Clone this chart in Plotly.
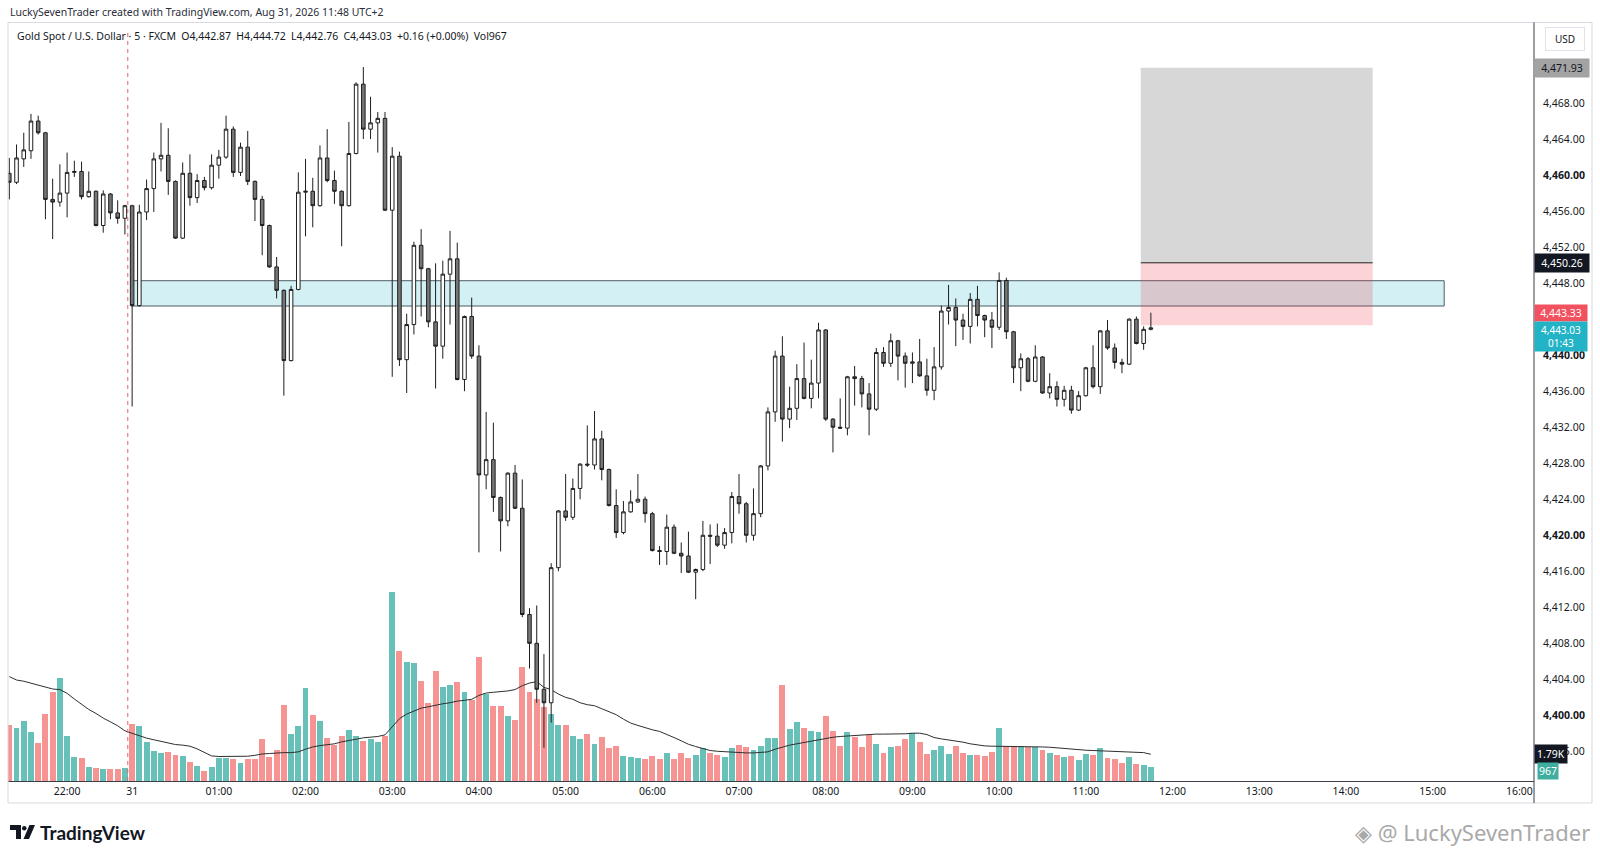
import plotly.graph_objects as go

# Gold Spot / USD 5分钟K线 (FXCM)，周五 21:20 到 周一 11:45
opens = [4460.2, 4459.2, 4461.8, 4462.7, 4466.0, 4464.7, 4457.3, 4457.0, 4458.0, 4460.3,
         4460.4, 4457.6, 4458.2, 4454.4, 4457.9, 4455.8, 4455.2, 4456.6, 4445.5, 4455.9,
         4458.5, 4461.8, 4462.2, 4459.3, 4453.0, 4460.2, 4457.5, 4459.4, 4458.6, 4461.1,
         4462.0, 4465.1, 4460.3, 4463.1, 4459.3, 4457.3, 4454.4, 4449.8, 4447.2, 4439.4,
         4447.3, 4458.1, 4458.2, 4456.6, 4461.9, 4459.4, 4458.2, 4456.6, 4462.4, 4470.1,
         4465.1, 4465.8, 4466.3, 4456.1, 4462.1, 4439.5, 4443.4, 4452.2, 4449.6, 4443.7,
         4441.0, 4449.0, 4450.7, 4437.3, 4444.3, 4439.9, 4426.7, 4428.4, 4424.2, 4421.6,
         4426.9, 4423.0, 4411.2, 4408.0, 4402.9, 4401.4, 4416.4, 4422.7, 4422.0, 4425.2,
         4427.9, 4427.8, 4430.7, 4427.3, 4423.3, 4420.3, 4422.6, 4423.7, 4424.0, 4422.4,
         4418.3, 4418.2, 4420.9, 4418.0, 4417.7, 4415.9, 4416.2, 4420.0, 4419.9, 4418.9,
         4420.3, 4424.3, 4423.5, 4420.0, 4422.4, 4427.7, 4433.7, 4439.9, 4432.9, 4434.1,
         4437.4, 4435.2, 4436.9, 4442.8, 4432.9, 4432.0, 4431.9, 4437.6, 4437.4, 4435.7,
         4434.0, 4440.3, 4439.1, 4441.6, 4439.9, 4439.1, 4439.25, 4437.7, 4436.1, 4438.7,
         4444.9, 4445.3, 4443.9, 4443.2, 4446.2, 4444.4, 4443.9, 4443.1, 4448.3, 4442.6,
         4438.6, 4439.6, 4437.1, 4439.8, 4435.8, 4436.5, 4435.1, 4436.1, 4433.9, 4435.5,
         4438.6, 4436.5, 4442.7, 4440.8, 4439.2, 4439.0, 4444.0, 4441.3, 4442.87]
highs = [4461.9, 4463.4, 4464.7, 4466.8, 4466.6, 4464.8, 4459.6, 4461.2, 4462.5, 4461.6,
         4461.5, 4460.4, 4458.3, 4458.3, 4458.0, 4457.2, 4456.7, 4456.7, 4456.7, 4459.5,
         4462.5, 4465.8, 4465.2, 4459.4, 4461.4, 4462.3, 4460.1, 4459.8, 4462.3, 4462.8,
         4466.6, 4465.4, 4463.6, 4464.9, 4459.4, 4457.7, 4454.5, 4450.9, 4447.3, 4447.7,
         4460.3, 4461.8, 4459.7, 4463.3, 4465.1, 4460.5, 4458.3, 4465.9, 4470.3, 4472.0,
         4468.7, 4467.0, 4467.0, 4463.1, 4462.6, 4444.6, 4452.6, 4454.0, 4449.7, 4450.2,
         4450.5, 4453.8, 4452.5, 4444.4, 4446.4, 4441.1, 4433.7, 4432.5, 4424.3, 4427.0,
         4427.8, 4426.2, 4411.9, 4412.2, 4406.8, 4416.9, 4422.8, 4426.8, 4426.3, 4428.0,
         4432.2, 4433.8, 4431.6, 4427.4, 4425.1, 4423.8, 4425.0, 4426.8, 4424.3, 4422.6,
         4418.8, 4422.3, 4421.2, 4419.2, 4420.4, 4416.3, 4421.6, 4421.2, 4421.3, 4420.8,
         4424.8, 4426.8, 4423.7, 4425.2, 4427.8, 4434.2, 4440.5, 4442.1, 4436.5, 4439.0,
         4441.4, 4439.5, 4443.6, 4442.9, 4433.0, 4435.2, 4437.7, 4438.8, 4437.7, 4436.9,
         4440.8, 4440.9, 4442.4, 4441.7, 4440.3, 4440.3, 4441.8, 4439.6, 4440.9, 4445.5,
         4447.8, 4446.3, 4444.6, 4446.9, 4447.7, 4444.5, 4444.8, 4449.2, 4448.6, 4442.7,
         4440.2, 4439.8, 4441.1, 4439.9, 4438.0, 4437.1, 4436.6, 4436.6, 4436.0, 4438.7,
         4441.1, 4442.8, 4443.9, 4441.3, 4439.6, 4444.1, 4444.3, 4443.2, 4444.72]
lows = [4457.3, 4459.0, 4460.9, 4461.8, 4464.5, 4455.1, 4452.9, 4456.5, 4455.3, 4459.8,
        4457.3, 4457.5, 4454.3, 4453.6, 4455.1, 4454.6, 4453.4, 4434.3, 4445.4, 4455.0,
        4455.9, 4460.4, 4457.8, 4452.9, 4452.9, 4456.6, 4456.9, 4458.3, 4458.4, 4459.6,
        4461.8, 4459.8, 4459.9, 4458.9, 4454.9, 4451.1, 4449.7, 4446.3, 4435.5, 4439.3,
        4447.2, 4453.2, 4454.2, 4456.5, 4459.2, 4456.8, 4452.1, 4456.5, 4462.3, 4464.0,
        4464.0, 4462.5, 4456.0, 4437.6, 4438.8, 4435.8, 4442.3, 4444.3, 4443.1, 4436.3,
        4439.6, 4443.4, 4437.2, 4436.0, 4439.6, 4418.1, 4425.1, 4422.6, 4418.2, 4421.0,
        4422.9, 4410.9, 4405.2, 4401.4, 4396.4, 4399.2, 4416.0, 4421.6, 4421.7, 4424.0,
        4427.6, 4427.3, 4426.1, 4423.2, 4419.7, 4420.1, 4422.5, 4423.6, 4421.4, 4418.2,
        4416.7, 4416.7, 4417.9, 4415.8, 4415.8, 4412.9, 4416.0, 4416.8, 4418.7, 4418.5,
        4419.1, 4422.4, 4419.2, 4419.4, 4422.0, 4427.2, 4432.6, 4430.4, 4431.9, 4432.8,
        4435.1, 4434.1, 4435.2, 4432.7, 4429.2, 4431.8, 4431.1, 4434.4, 4434.2, 4431.1,
        4433.8, 4438.7, 4438.7, 4437.2, 4436.4, 4436.9, 4437.6, 4435.5, 4435.0, 4438.4,
        4443.4, 4441.0, 4441.7, 4441.3, 4443.2, 4442.0, 4440.8, 4442.8, 4441.8, 4436.9,
        4436.0, 4437.0, 4437.0, 4435.7, 4435.2, 4434.3, 4434.3, 4433.5, 4433.8, 4435.4,
        4436.3, 4435.7, 4440.6, 4438.5, 4438.0, 4438.9, 4441.2, 4440.6, 4442.76]
closes = [4459.2, 4461.9, 4462.8, 4466.0, 4464.7, 4457.3, 4457.0, 4458.0, 4460.3, 4460.4,
          4457.6, 4458.2, 4454.4, 4457.9, 4455.8, 4455.2, 4456.6, 4445.5, 4455.9, 4458.5,
          4461.8, 4462.2, 4459.3, 4453.0, 4460.2, 4457.5, 4459.4, 4458.6, 4461.1, 4462.0,
          4465.1, 4460.3, 4463.1, 4459.3, 4457.3, 4454.4, 4449.8, 4447.2, 4439.4, 4447.3,
          4458.1, 4458.2, 4456.6, 4461.9, 4459.4, 4458.2, 4456.6, 4462.4, 4470.1, 4465.1,
          4465.8, 4466.3, 4456.1, 4462.1, 4439.5, 4443.4, 4452.2, 4449.6, 4443.7, 4441.0,
          4449.0, 4450.7, 4437.3, 4444.3, 4439.9, 4426.7, 4428.4, 4424.2, 4421.6, 4426.9,
          4423.0, 4411.2, 4408.0, 4402.9, 4401.4, 4416.4, 4422.7, 4422.0, 4425.2, 4427.9,
          4427.8, 4430.7, 4427.3, 4423.3, 4420.3, 4422.6, 4423.7, 4424.0, 4422.4, 4418.3,
          4418.2, 4420.9, 4418.0, 4417.7, 4415.9, 4416.2, 4420.0, 4419.9, 4418.9, 4420.3,
          4424.3, 4423.5, 4420.0, 4422.4, 4427.7, 4433.7, 4439.9, 4432.9, 4434.1, 4437.4,
          4435.2, 4436.9, 4442.8, 4432.9, 4432.0, 4431.9, 4437.6, 4437.4, 4435.7, 4434.0,
          4440.3, 4439.1, 4441.6, 4439.9, 4439.1, 4439.25, 4437.7, 4436.1, 4438.7, 4444.9,
          4445.3, 4443.9, 4443.2, 4446.2, 4444.4, 4443.9, 4443.1, 4448.3, 4442.6, 4438.6,
          4439.6, 4437.1, 4439.8, 4435.8, 4436.5, 4435.1, 4436.1, 4433.9, 4435.5, 4438.6,
          4436.5, 4442.7, 4440.8, 4439.2, 4439.0, 4444.0, 4441.3, 4442.87, 4443.03]

# 成交量
volumes = [3760, 3580, 4010, 3290, 2530, 4480, 5940, 6880, 3020, 1610,
           1520, 960, 900, 830, 830, 830, 900, 3810, 3650, 2640,
           1990, 1880, 1950, 1750, 1680, 1300, 1010, 650, 940, 1570,
           1570, 1480, 1190, 1480, 1500, 2780, 1610, 2060, 5110, 3140,
           3700, 6230, 4410, 4030, 2870, 2420, 3000, 3400, 3000, 2690,
           2800, 2580, 3000, 12660, 8690, 8000, 7930, 6720, 5240, 7350,
           6320, 6450, 6650, 5940, 5420, 8290, 5820, 5000, 5040, 4350,
           4080, 7660, 5940, 5490, 4970, 4480, 3760, 3760, 3020, 2790,
           3180, 2510, 2960, 2200, 2330, 1680, 1640, 1550, 1500, 1680,
           1500, 1860, 1500, 1860, 1570, 1750, 2240, 1900, 1750, 1640,
           2200, 2420, 2310, 2060, 2350, 2890, 2890, 6450, 3490, 3940,
           3580, 3340, 3250, 4370, 3340, 2370, 3290, 2960, 2310, 3110,
           2460, 1880, 2310, 2370, 2820, 3200, 2600, 1790, 2060, 2350,
           1790, 2350, 1880, 1720, 1720, 1680, 1950, 3560, 2330, 2330,
           2370, 2310, 2310, 2080, 1860, 1770, 1640, 1680, 1390, 1790,
           1750, 2200, 1520, 1480, 1210, 1610, 1160, 1100, 967]

# 成交量均线
vol_ma = [6990, 6760, 6680, 6560, 6430, 6270, 6160, 6120, 5870, 5490,
          5110, 4790, 4520, 4210, 3960, 3700, 3360, 3180, 3020, 2870,
          2760, 2640, 2510, 2440, 2400, 2330, 2150, 1900, 1680, 1640,
          1640, 1640, 1640, 1660, 1720, 1810, 1840, 1880, 1900, 1900,
          1950, 2130, 2280, 2370, 2420, 2490, 2620, 2730, 2800, 2890,
          2930, 2980, 3090, 3630, 4170, 4480, 4700, 4880, 4970, 5080,
          5170, 5240, 5350, 5400, 5470, 5730, 5890, 5940, 5980, 6030,
          6120, 6380, 6560, 6650, 6270, 6120, 5820, 5600, 5470, 5240,
          5110, 5040, 4840, 4640, 4440, 4140, 3880, 3720, 3560, 3430,
          3320, 3140, 2910, 2690, 2460, 2310, 2170, 2040, 1990, 1950,
          1930, 1900, 1880, 1880, 1900, 1950, 2130, 2280, 2400, 2490,
          2580, 2670, 2780, 2870, 2930, 2980, 3020, 3070, 3090, 3110,
          3140, 3140, 3140, 3140, 3160, 3200, 3200, 3110, 2910, 2820,
          2760, 2690, 2600, 2490, 2400, 2350, 2330, 2330, 2330, 2310,
          2310, 2310, 2310, 2280, 2260, 2220, 2150, 2110, 2080, 2060,
          2040, 2020, 2020, 1990, 1970, 1950, 1950, 1900, 1790]

time_tick_idx = [8, 17, 29, 41, 53, 65, 77, 89, 101, 113, 125, 137, 149, 161, 173, 185, 197, 209]
time_tick_text = ["22:00", "31", "01:00", "02:00", "03:00", "04:00", "05:00", "06:00", "07:00",
                  "08:00", "09:00", "10:00", "11:00", "12:00", "13:00", "14:00", "15:00", "16:00"]

# 4,444 被价格标签挡住，不显示
price_ticks = [4396, 4400, 4404, 4408, 4412, 4416, 4420, 4424, 4428, 4432, 4436,
               4440, 4448, 4452, 4456, 4460, 4464, 4468]

# 区域和多单工具
zone_low, zone_high = 4445.46, 4448.27
entry, target, stop = 4450.26, 4471.93, 4443.33
last_close = 4443.03
vol_ma_last = 1790

idx = list(range(len(opens)))
FONT = "Noto Sans"


# 像素 -> paper 坐标
def px(x):
    return (x - 8) / 1526


def py(y):
    return (781 - y) / 758


vol_colors = ['rgba(38,166,154,0.7)' if c >= o else 'rgba(239,83,80,0.62)'
              for o, c in zip(opens, closes)]

fig = go.Figure()

fig.add_trace(go.Bar(
    x=idx, y=volumes, marker_color=vol_colors, marker_line_width=0,
    width=0.82, yaxis='y', hoverinfo='skip'
))
fig.add_trace(go.Scatter(
    x=idx, y=vol_ma, mode='lines', line=dict(color='#2f2f2f', width=1),
    yaxis='y', hoverinfo='skip'
))
fig.add_trace(go.Candlestick(
    x=idx, open=opens, high=highs, low=lows, close=closes, yaxis='y2',
    increasing=dict(fillcolor='#ffffff', line=dict(color='#1e1e1e', width=1)),
    decreasing=dict(fillcolor='#767676', line=dict(color='#1e1e1e', width=1)),
    whiskerwidth=0
))

shapes = [
    # 蓝色区域
    dict(type='rect', xref='x', yref='y2', x0=16.9, x1=198.6, y0=zone_low, y1=zone_high,
         fillcolor='#d3f0f5', line=dict(color='#4e5d63', width=1), layer='below'),
    # 止盈 (灰)
    dict(type='rect', xref='x', yref='y2', x0=156.6, x1=188.7, y0=entry, y1=target,
         fillcolor='rgba(150,150,150,0.38)', line=dict(width=0), layer='below'),
    # 止损 (红)
    dict(type='rect', xref='x', yref='y2', x0=156.6, x1=188.7, y0=stop, y1=entry,
         fillcolor='rgba(242,54,69,0.22)', line=dict(width=0), layer='below'),
    dict(type='line', xref='x', yref='y2', x0=156.6, x1=188.7, y0=entry, y1=entry,
         line=dict(color='#222222', width=1)),
    # 日分隔线
    dict(type='line', xref='x', yref='paper', x0=16.4, x1=16.4, y0=0, y1=py(30),
         line=dict(color='#e06666', width=1, dash='4px,4px')),
    # 外框
    dict(type='rect', xref='paper', yref='paper', x0=0, x1=px(1592), y0=py(803), y1=py(22.5),
         line=dict(color='#d6d9e0', width=1)),
    dict(type='line', xref='paper', yref='paper', x0=1, x1=1, y0=py(803), y1=py(22.5),
         line=dict(color='#3a3e48', width=1)),
    # TradingView 标志
    dict(type='path', xref='paper', yref='paper',
         path=f'M {px(10)},{py(825)} L {px(21)},{py(825)} L {px(21)},{py(839)} '
              f'L {px(16)},{py(839)} L {px(16)},{py(830)} L {px(10)},{py(830)} Z',
         fillcolor='#131722', line=dict(width=0)),
    dict(type='circle', xref='paper', yref='paper', x0=px(22), x1=px(26.5), y0=py(830.5),
         y1=py(826), fillcolor='#131722', line=dict(width=0)),
    dict(type='path', xref='paper', yref='paper',
         path=f'M {px(23.5)},{py(839)} L {px(29.5)},{py(825)} L {px(35)},{py(825)} '
              f'L {px(29)},{py(839)} Z',
         fillcolor='#131722', line=dict(width=0)),
]

annotations = [
    dict(text='LuckySevenTrader created with TradingView.com, Aug 31, 2026 11:48 UTC+2',
         x=px(8), y=py(12), font=dict(size=10.5, color='#2a2e39')),
    dict(text='Gold Spot / U.S. Dollar \u00b7 5 \u00b7 FXCM\u2002O4,442.87\u2002H4,444.72\u2002'
              'L4,442.76\u2002C4,443.03\u2002+0.16 (+0.00%)\u2002Vol967',
         x=px(15), y=py(36), font=dict(size=10.5, color='#131722')),
    dict(text='USD', x=px(1545), y=py(39), font=dict(size=10, color='#131722'),
         bgcolor='#ffffff', bordercolor='#e0e3eb', borderwidth=1, borderpad=4, width=30),
    dict(text='<b>TradingView</b>', x=px(38), y=py(832),
         font=dict(size=19, color='#131722', family='Lato')),
    dict(text='\u25c8 @ LuckySevenTrader', x=px(1592), y=py(832), xanchor='right',
         font=dict(size=22, color='#a9a9a9')),
]
for a in annotations:
    a.setdefault('xref', 'paper')
    a.setdefault('yref', 'paper')
    a.setdefault('xanchor', 'left')
    a.setdefault('yanchor', 'middle')
    a['showarrow'] = False

# 价格轴标签
labels = [
    (f'{target:,.2f}', target, '#a3a3a3', '#131722', 0, 'middle', 10.5, 2),
    (f'{entry:,.2f}', entry, '#131722', '#ffffff', 0, 'middle', 10.5, 2),
    (f'{stop:,.2f}', stop, '#f2525f', '#ffffff', 12, 'middle', 10.5, 1),
    (f'{last_close:,.2f}<br>01:43', last_close, '#22b3c6', '#ffffff', 7, 'top', 10, 1),
]
for txt, yv, bg, fc, ys, ya, fs, bp in labels:
    annotations.append(dict(
        text=txt, xref='paper', yref='y2', x=1, y=yv, xanchor='left', yanchor=ya,
        yshift=ys, showarrow=False, bgcolor=bg, borderpad=bp, width=50, align='center',
        font=dict(size=fs, color=fc, family=FONT)))
annotations.append(dict(
    text='1.79K', xref='paper', yref='y', x=1, y=vol_ma_last, xanchor='left', yanchor='middle',
    showarrow=False, bgcolor='#131722', borderpad=2, font=dict(size=10.5, color='#ffffff')))
annotations.append(dict(
    text='967', xref='paper', yref='y', x=1, xshift=3, y=volumes[-1], xanchor='left',
    yanchor='middle', yshift=-4, showarrow=False, bgcolor='#3fae9f', borderpad=1,
    font=dict(size=10.5, color='#ffffff')))

price_text = [f'<b>{p:,.2f}</b>' if p % 20 == 0 else f'{p:,.2f}' for p in price_ticks]

fig.update_layout(
    width=1600, height=857,
    margin=dict(l=8, r=66, t=23, b=76),
    paper_bgcolor='#ffffff', plot_bgcolor='#ffffff',
    font=dict(family=FONT, size=10.5, color='#131722'),
    showlegend=False,
    bargap=0,
    xaxis=dict(range=[-0.18, 211.03], tickvals=time_tick_idx, ticktext=time_tick_text,
               showgrid=False, zeroline=False, showline=True, linecolor='#3a3e48', linewidth=1,
               ticks='', rangeslider=dict(visible=False), tickfont=dict(size=10.5)),
    yaxis=dict(range=[0, 50750], visible=False, fixedrange=True),
    yaxis2=dict(range=[4392.71, 4476.89], overlaying='y', side='right',
                tickvals=price_ticks, ticktext=price_text, showgrid=False, zeroline=False,
                showline=False, ticks='', ticklabelstandoff=8, tickfont=dict(size=10.5)),
    shapes=shapes,
    annotations=annotations,
)

fig.write_html("out.html", config={'displayModeBar': False},
               post_script="document.body.style.margin='0';document.body.style.overflow='hidden';")
